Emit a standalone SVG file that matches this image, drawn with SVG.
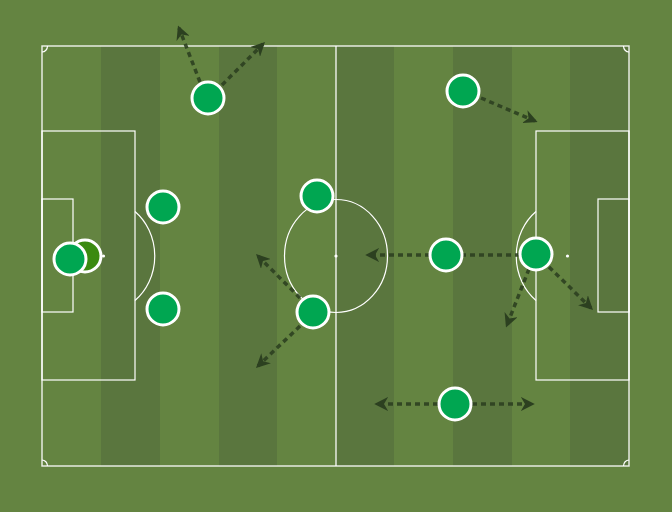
<svg xmlns="http://www.w3.org/2000/svg" width="672" height="512" viewBox="0 0 672 512">
<style>
.line{fill:none;stroke:#ffffff;stroke-width:1.4;stroke-opacity:0.9}
.thin{fill:none;stroke:#ffffff;stroke-width:1.2}
.dark{fill:#5a763e}
.p{fill:#00a651;stroke:#ffffff;stroke-width:3}
.gk{fill:#3b8a10;stroke:#ffffff;stroke-width:3}
.run{fill:none;stroke:#2c4020;stroke-width:3.5;stroke-dasharray:5 4;stroke-opacity:0.9}
</style>
<defs>
<marker id="ah" markerUnits="userSpaceOnUse" markerWidth="14" markerHeight="14" viewBox="0 0 10 10" refX="8" refY="5" orient="auto">
<path d="M0,0 L10,5 L0,10 L3,5 z" fill="#2c4020"/>
</marker>
</defs>
<rect x="0" y="0" width="672" height="512" fill="#648441"/>
<g id="pitch">
<rect class="dark" x="101" y="46" width="59" height="420"/>
<rect class="dark" x="219" y="46" width="58" height="420"/>
<rect class="dark" x="336" y="46" width="58" height="420"/>
<rect class="dark" x="453" y="46" width="59" height="420"/>
<rect class="dark" x="570" y="46" width="59" height="420"/>
<rect class="line" x="42" y="46" width="587" height="420"/>
<line class="line" x1="336" y1="46" x2="336" y2="466"/>
<ellipse class="thin" cx="336" cy="256" rx="51.5" ry="56.5"/>
<circle cx="336" cy="256" r="1.6" fill="#fff"/>
<rect class="thin" x="42" y="131" width="93" height="249"/>
<rect class="thin" x="42" y="199" width="31" height="113"/>
<circle cx="103.5" cy="256" r="1.6" fill="#fff"/>
<path class="thin" d="M135,211.5 A51.5,56.5 0 0 1 135,300.5"/>
<rect class="thin" x="536" y="131" width="93" height="249"/>
<rect class="thin" x="598" y="199" width="31" height="113"/>
<circle cx="567.5" cy="256" r="1.6" fill="#fff"/>
<path class="thin" d="M536,211.5 A51.5,56.5 0 0 0 536,300.5"/>
<path class="thin" d="M42,52 A5.5,6 0 0 0 47.5,46"/>
<path class="thin" d="M623.5,46 A5.5,6 0 0 0 629,52"/>
<path class="thin" d="M42,460 A5.5,6 0 0 1 47.5,466"/>
<path class="thin" d="M623.5,466 A5.5,6 0 0 1 629,460"/>
</g>
<g id="connectors">
<line class="run" x1="200" y1="82" x2="179" y2="28" marker-end="url(#ah)"/>
<line class="run" x1="222" y1="85" x2="263" y2="44" marker-end="url(#ah)"/>
<line class="run" x1="481" y1="98" x2="535" y2="121" marker-end="url(#ah)"/>
<line class="run" x1="430" y1="255" x2="368" y2="255" marker-end="url(#ah)"/>
<line class="run" x1="520" y1="255" x2="462" y2="255"/>
<line class="run" x1="529" y1="269" x2="507" y2="325" marker-end="url(#ah)"/>
<line class="run" x1="549" y1="267" x2="591" y2="308" marker-end="url(#ah)"/>
<line class="run" x1="300" y1="298" x2="258" y2="256" marker-end="url(#ah)"/>
<line class="run" x1="300" y1="326" x2="258" y2="366" marker-end="url(#ah)"/>
<line class="run" x1="438" y1="404" x2="377" y2="404" marker-end="url(#ah)"/>
<line class="run" x1="472" y1="404" x2="532" y2="404" marker-end="url(#ah)"/>
</g>
<g id="gk"><circle class="gk" cx="85" cy="256" r="16"/></g>
<g id="p1"><circle class="p" cx="70" cy="259" r="16"/></g>
<g id="p2"><circle class="p" cx="163" cy="207" r="16"/></g>
<g id="p3"><circle class="p" cx="163" cy="309" r="16"/></g>
<g id="p4"><circle class="p" cx="208" cy="98" r="16"/></g>
<g id="p5"><circle class="p" cx="317" cy="196" r="16"/></g>
<g id="p6"><circle class="p" cx="313" cy="312" r="16"/></g>
<g id="p7"><circle class="p" cx="463" cy="91" r="16"/></g>
<g id="p8"><circle class="p" cx="446" cy="255" r="16"/></g>
<g id="p9"><circle class="p" cx="536" cy="254" r="16"/></g>
<g id="p10"><circle class="p" cx="455" cy="404" r="16"/></g>
</svg>
